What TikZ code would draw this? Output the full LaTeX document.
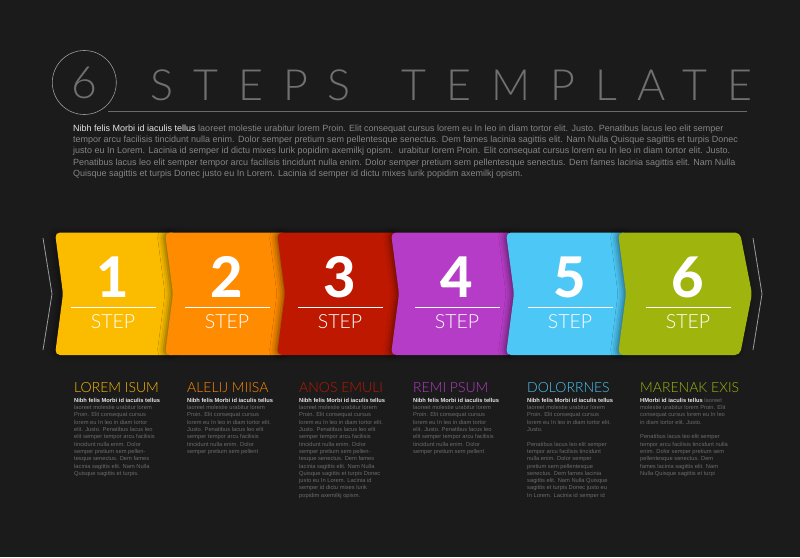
\documentclass[tikz,border=0pt]{standalone}
\usepackage{fontspec}
\setmainfont{Liberation Sans}
\newfontfamily\latoheavy{Lato Heavy}
\newfontfamily\latolight{Lato Light}
\newfontfamily\titlefont{Lato Light}[LetterSpace=46.5]
\usetikzlibrary{shadows.blur}

\definecolor{bgdark}{HTML}{1B1B1B}
\definecolor{titlegray}{HTML}{707070}
\definecolor{circgray}{HTML}{9A9A9A}
\definecolor{rulegray}{HTML}{6A6A6A}
\definecolor{introgray}{HTML}{858585}
\definecolor{bodygray}{HTML}{6C6C6C}
\definecolor{bodywhite}{HTML}{E6E6E6}
\definecolor{chevgray}{HTML}{9C9C9C}
\definecolor{stepA}{HTML}{FBBC00}
\definecolor{stepB}{HTML}{FF8B00}
\definecolor{stepC}{HTML}{BE1800}
\definecolor{stepD}{HTML}{B53CC6}
\definecolor{stepE}{HTML}{4DC7F5}
\definecolor{stepF}{HTML}{9FB40C}

\tikzset{
  stepshape/.style={rounded corners=5pt, blur shadow={shadow xshift=-2pt, shadow yshift=0pt, shadow blur radius=6pt, shadow opacity=50}},
  stepnum/.style={anchor=base, inner sep=0pt, text=white, font=\latoheavy\fontsize{56}{56}\selectfont},
  steplabel/.style={anchor=base, inner sep=0pt, text=white, font=\latolight\fontsize{19.5}{20}\selectfont},
  stepline/.style={white, line width=0.9pt},
  chevron/.style={chevgray, line width=0.8pt},
  coltitle/.style={anchor=base west, inner sep=0pt, font=\latolight\fontsize{14}{14}\selectfont},
  coltext/.style={anchor=north west, inner sep=0pt, align=left, text=bodygray, font=\fontsize{5.75}{7.3}\selectfont}
}

\begin{document}
\begin{tikzpicture}[x=1pt,y=-1pt]
\useasboundingbox (0,0) rectangle (800,557);
\fill[bgdark] (0,0) rectangle (800,557);

\node[circle, draw=circgray, line width=0.6pt, minimum size=64pt, inner sep=0pt, text=titlegray, font=\latolight\fontsize{44.5}{44.5}\selectfont] (badge) at (84.3,82.5) {6};
\node[anchor=base west, inner sep=0pt, text=titlegray, font=\titlefont\fontsize{43}{43}\selectfont] (title) at (150,100) {STEPS\hspace{19pt} TEMPLATE};
\draw[rulegray, line width=1.2pt] (108,111.5) -- (747,111.5);

\node[anchor=north west, inner sep=0pt, align=left, text=introgray, font=\fontsize{9}{11.3}\selectfont] (intro) at (73,124.5) {{\color{bodywhite}Nibh felis Morbi id iaculis tellus} laoreet molestie urabitur lorem Proin. Elit consequat cursus lorem eu In leo in diam tortor elit. Justo. Penatibus lacus leo elit semper\\
tempor arcu facilisis tincidunt nulla enim. Dolor semper pretium sem pellentesque senectus. Dem fames lacinia sagittis elit. Nam Nulla Quisque sagittis et turpis Donec\\
justo eu In Lorem. Lacinia id semper id dictu mixes lurik popidim axemilkj opism. \ urabitur lorem Proin. Elit consequat cursus lorem eu In leo in diam tortor elit. Justo.\\
Penatibus lacus leo elit semper tempor arcu facilisis tincidunt nulla enim. Dolor semper pretium sem pellentesque senectus. Dem fames lacinia sagittis elit. Nam Nulla\\
Quisque sagittis et turpis Donec justo eu In Lorem. Lacinia id semper id dictu mixes lurik popidim axemilkj opism.};

\draw[chevron] (43,238) -- (52,294) -- (43,350);
\draw[chevron] (753,238) -- (762,294) -- (753,350);

\path[stepshape, fill=stepA] (55,232.5) -- (177,232.5) -- (189,293.75) -- (177,355) -- (55,355) -- (63,293.75) -- cycle;
\path[stepshape, fill=stepB] (165,232.5) -- (287,232.5) -- (299,293.75) -- (287,355) -- (165,355) -- (173,293.75) -- cycle;
\path[stepshape, fill=stepC] (277,232.5) -- (399,232.5) -- (411,293.75) -- (399,355) -- (277,355) -- (285,293.75) -- cycle;
\path[stepshape, fill=stepD] (391,232.5) -- (513,232.5) -- (525,293.75) -- (513,355) -- (391,355) -- (399,293.75) -- cycle;
\path[stepshape, fill=stepE] (506,232.5) -- (628,232.5) -- (640,293.75) -- (628,355) -- (506,355) -- (514,293.75) -- cycle;
\path[stepshape, fill=stepF] (618,232.5) -- (740,232.5) -- (752,293.75) -- (740,355) -- (618,355) -- (626,293.75) -- cycle;

\node[stepnum] (n1) at (113,297) {1};
\node[stepnum] (n2) at (227,297) {2};
\node[stepnum] (n3) at (340,297) {3};
\node[stepnum] (n4) at (457,297) {4};
\node[stepnum] (n5) at (570,297) {5};
\node[stepnum] (n6) at (688,297) {6};
\draw[stepline] (71,307) -- (156,307);
\draw[stepline] (185,307) -- (270,307);
\draw[stepline] (298,307) -- (383,307);
\draw[stepline] (415,307) -- (500,307);
\draw[stepline] (528,307) -- (613,307);
\draw[stepline] (646,307) -- (731,307);
\node[steplabel] (s1) at (113,328) {STEP};
\node[steplabel] (s2) at (227,328) {STEP};
\node[steplabel] (s3) at (340,328) {STEP};
\node[steplabel] (s4) at (457,328) {STEP};
\node[steplabel] (s5) at (570,328) {STEP};
\node[steplabel] (s6) at (688,328) {STEP};

\node[coltitle, text=stepA] (t1) at (74,392) {LOREM ISUM};
\node[coltitle, text=stepB] (t2) at (187,392) {ALELIJ MIISA};
\node[coltitle, text=stepC] (t3) at (299,392) {ANOS EMULI};
\node[coltitle, text=stepD] (t4) at (413,392) {REMI PSUM};
\node[coltitle, text=stepE] (t5) at (527,392) {DOLORRNES};
\node[coltitle, text=stepF] (t6) at (640,392) {MARENAK EXIS};

\node[coltext] (c1) at (74,398) {{\color{bodywhite}\bfseries Nibh felis Morbi id iaculis tellus}\\
laoreet molestie urabitur lorem\\
Proin. Elit consequat cursus\\
lorem eu In leo in diam tortor\\
elit. Justo. Penatibus lacus leo\\
elit semper tempor arcu facilisis\\
tincidunt nulla enim. Dolor\\
semper pretium sem pellen-\\
tesque senectus. Dem fames\\
lacinia sagittis elit. Nam Nulla\\
Quisque sagittis et turpis.};
\node[coltext] (c2) at (187,398) {{\color{bodywhite}\bfseries Nibh felis Morbi id iaculis tellus}\\
laoreet molestie urabitur lorem\\
Proin. Elit consequat cursus\\
lorem eu In leo in diam tortor elit.\\
Justo. Penatibus lacus leo elit\\
semper tempor arcu facilisis\\
tincidunt nulla enim. Dolor\\
semper pretium sem pellent};
\node[coltext] (c3) at (299,398) {{\color{bodywhite}\bfseries Nibh felis Morbi id iaculis tellus}\\
laoreet molestie urabitur lorem\\
Proin. Elit consequat cursus\\
lorem eu In leo in diam tortor elit.\\
Justo. Penatibus lacus leo elit\\
semper tempor arcu facilisis\\
tincidunt nulla enim. Dolor\\
semper pretium sem pellen-\\
tesque senectus. Dem fames\\
lacinia sagittis elit. Nam Nulla\\
Quisque sagittis et turpis Donec\\
justo eu In Lorem. Lacinia id\\
semper id dictu mixes lurik\\
popidim axemilkj opism.};
\node[coltext] (c4) at (413,398) {{\color{bodywhite}\bfseries Nibh felis Morbi id iaculis tellus}\\
laoreet molestie urabitur lorem\\
Proin. Elit consequat cursus\\
lorem eu In leo in diam tortor\\
elit. Justo. Penatibus lacus leo\\
elit semper tempor arcu facilisis\\
tincidunt nulla enim. Dolor\\
semper pretium sem pellent};
\node[coltext] (c5) at (527,398) {{\color{bodywhite}\bfseries Nibh felis Morbi id iaculis tellus}\\
laoreet molestie urabitur lorem\\
Proin. Elit consequat cursus\\
lorem eu In leo in diam tortor elit.\\
Justo.\\[7.3pt]
Penatibus lacus leo elit semper\\
tempor arcu facilisis tincidunt\\
nulla enim. Dolor semper\\
pretium sem pellentesque\\
senectus. Dem fames lacinia\\
sagittis elit. Nam Nulla Quisque\\
sagittis et turpis Donec justo eu\\
In Lorem. Lacinia id semper id};
\node[coltext] (c6) at (640,398) {{\color{bodywhite}\bfseries HMorbi id iaculis tellus} laoreet\\
molestie urabitur lorem Proin. Elit\\
consequat cursus lorem eu In leo\\
in diam tortor elit. Justo.\\[7.3pt]
Penatibus lacus leo elit semper\\
tempor arcu facilisis tincidunt nulla\\
enim. Dolor semper pretium sem\\
pellentesque senectus. Dem\\
fames lacinia sagittis elit. Nam\\
Nulla Quisque sagittis et turpi};
\end{tikzpicture}
\end{document}
